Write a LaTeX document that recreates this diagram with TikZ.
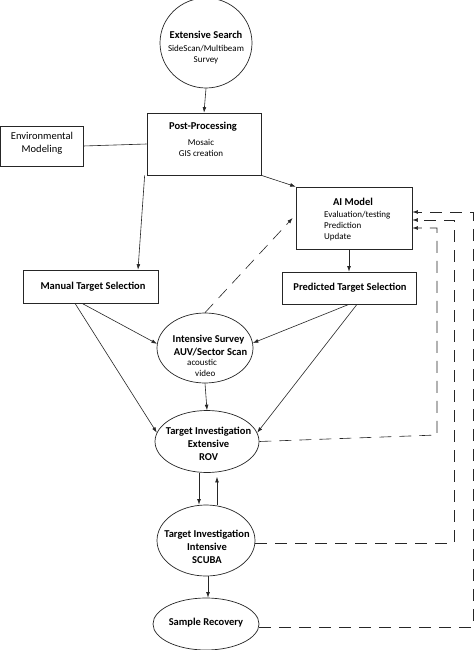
\documentclass[tikz,border=0pt]{standalone}
\usepackage{fontspec}
\setmainfont{Carlito}
\usetikzlibrary{arrows.meta,shapes.geometric}
\tikzset{
  box/.style={draw=black!85, line width=0.7pt, inner sep=0pt},
  oval/.style={draw=black!85, ellipse, line width=0.7pt, inner sep=0pt},
  head/.style={font=\bfseries\fontsize{10.5}{13}\selectfont, inner sep=0pt, align=center},
  small/.style={font=\fontsize{9}{11}\selectfont, inner sep=0pt, align=center},
  flow/.style={draw=black!85, line width=0.6pt, -{Latex[length=5.5pt,width=3.8pt]}},
  back/.style={flow, dash pattern=on 12pt off 8pt},
}
\begin{document}
\begin{tikzpicture}[x=1pt,y=-1pt]
        \useasboundingbox[fill=white] (0,0) rectangle (474,650);
        % shapes
        \node[oval, minimum width=92pt, minimum height=90pt] (search) at (206,43) {};
        \node[box, minimum width=114pt, minimum height=62pt] (post) at (204,144) {};
        \node[box, minimum width=82.5pt, minimum height=40pt] (env) at (41.7,146) {};
        \node[box, minimum width=116pt, minimum height=62pt] (ai) at (354,218) {};
        \node[box, minimum width=135pt, minimum height=33pt] (manual) at (90.5,286.5) {};
        \node[box, minimum width=134pt, minimum height=32pt] (predicted) at (349,288) {};
        \node[oval, minimum width=96pt, minimum height=70pt] (intensive) at (205,348) {};
        \node[oval, minimum width=104pt, minimum height=62pt] (rov) at (207,441.5) {};
        \node[oval, minimum width=98pt, minimum height=71pt] (scuba) at (206,540.5) {};
        \node[oval, minimum width=106pt, minimum height=52pt] (sample) at (206,624) {};
        % texts
        \node[head] (searcht) at (206,35) {Extensive Search};
        \node[small] (searchs) at (206,55) {SideScan/Multibeam\\Survey};
        \node[head] (postt) at (203,127) {Post-Processing};
        \node[small] (posts) at (201,148) {Mosaic\\GIS creation};
        \node[font=\fontsize{10.5}{13}\selectfont, inner sep=0pt, align=center] (envt) at (42,143.5) {Environmental\\Modeling};
        \node[head] (ait) at (353,202) {AI Model};
        \node[small, align=left, anchor=west] (ais) at (324,226.5) {Evaluation/testing\\Prediction\\Update};
        \node[head] (manualt) at (93,287) {Manual Target Selection};
        \node[head] (predictedt) at (350,288) {Predicted Target Selection};
        \node[head] (intensivet) at (208.5,345.5) {Intensive Survey\\\hspace*{4pt}AUV/Sector Scan};
        \node[small, align=left, anchor=west] (intensives) at (187,367.5) {acoustic\\\hspace*{8pt}video};
        \node[head] (rovt) at (208.5,444) {Target Investigation\\Extensive\\ROV};
        \node[head] (scubat) at (207,547) {Target Investigation\\Intensive\\SCUBA};
        \node[head] (samplet) at (206,623) {Sample Recovery};
        % solid connectors
        \draw[flow] (search.south) -- (post.north);
        \draw[draw=black!85, line width=0.6pt] (env.east) -- (post.west);
        \draw[flow] (post.south east) -- (ai.north west);
        \draw[flow] ([xshift=-2pt]post.south west) -- ([xshift=47.5pt]manual.north);
        \draw[flow] ([xshift=-5pt]ai.south) -- (predicted.north);
        \draw[flow] ([xshift=-8.5pt]manual.south) -- (intensive.175);
        \draw[flow] (predicted.south) -- (intensive.6);
        \draw[flow] ([xshift=-15.5pt]manual.south) -- (rov.170);
        \draw[flow] ([xshift=8pt]predicted.south) -- (rov.10);
        \draw[flow] (intensive.south) -- (rov.north);
        \draw[flow] ([xshift=-8pt]rov.south) -- ([xshift=-7pt]scuba.north);
        \draw[flow] ([xshift=11pt]scuba.north) -- ([xshift=10pt,yshift=-4pt]rov.south);
        \draw[flow] ([xshift=2pt]scuba.south) -- ([xshift=2pt]sample.north);
        % dashed feedback
        \coordinate (fb1) at (437,435);
        \coordinate (fb2) at (454,220);
        \coordinate (fb3) at (473,212);
        \draw[back] (intensive.north) -- ([xshift=-3pt]ai.west);
        \draw[back] (rov.east) -- (fb1) |- ([yshift=-10pt]ai.east);
        \draw[back] ([yshift=-2.5pt]scuba.east) -| (fb2) -- ([yshift=-2pt]ai.east);
        \draw[back] ([yshift=-3pt]sample.east) -| (fb3) -- ([yshift=6pt]ai.east);
\end{tikzpicture}
\end{document}
